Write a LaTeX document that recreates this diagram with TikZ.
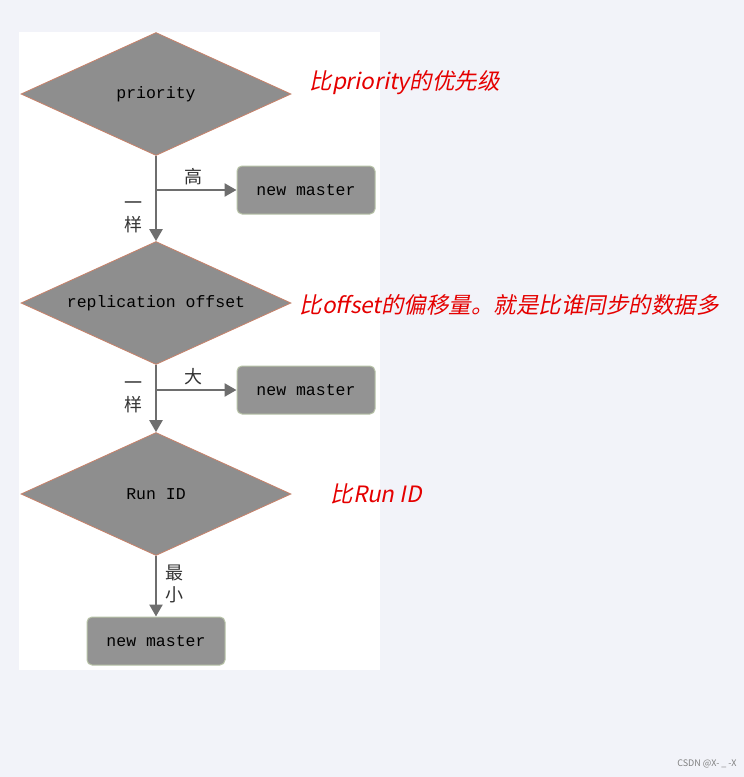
\documentclass[tikz,border=0pt]{standalone}
\usepackage{fontspec}
\usetikzlibrary{shapes.geometric,arrows.meta}
\newfontfamily\cjk{Noto Sans CJK SC}
\newfontfamily\cjkit[FakeSlant=0.2]{Noto Sans CJK SC}
\newfontfamily\monof{Liberation Mono}
\definecolor{bgc}{HTML}{F2F3F9}
\definecolor{dfill}{HTML}{8E8E8E}
\definecolor{dline}{HTML}{C8826A}
\definecolor{bfill}{HTML}{939393}
\definecolor{bline}{HTML}{B8C4A8}
\definecolor{arr}{HTML}{6E6E6E}
\tikzset{
 dia/.style={diamond,fill=dfill,draw=dline,line width=0.8pt,minimum width=270pt,minimum height=123pt,inner sep=0pt,aspect=2.2,font=\monof\fontsize{16.5}{18}\selectfont},
 mbox/.style={rounded corners=5pt,fill=bfill,draw=bline,line width=1pt,minimum width=138pt,minimum height=48pt,font=\monof\fontsize{16.5}{18}\selectfont},
 conn/.style={draw=arr,line width=2.5pt,-{Triangle[length=12pt,width=13pt]}},
 lab/.style={font=\cjk\fontsize{18}{22}\selectfont,text=black!80},
 red/.style={font=\cjkit\fontsize{22.5}{26}\selectfont,text=red!90!black,anchor=west}
}
\begin{document}
\begin{tikzpicture}[x=1pt,y=-1pt]
\fill[bgc] (0,0) rectangle (744,777);
\fill[white] (19,32) rectangle (380,670);
\node[dia] (d1) at (156,94) {priority};
\node[dia] (d2) at (156,303) {replication offset};
\node[dia] (d3) at (156,494) {Run ID};
\node[mbox] (b1) at (306,190) {new master};
\node[mbox] (b2) at (306,390) {new master};
\node[mbox] (b3) at (156,641) {new master};
\coordinate (j1) at (156,190);
\coordinate (j2) at (156,390);
\draw[conn] (d1.south) -- (d2.north);
\draw[conn] (j1) -- (b1.west);
\draw[conn] (d2.south) -- (d3.north);
\draw[conn] (j2) -- (b2.west);
\draw[conn] (d3.south) -- (b3.north);
\node[lab] (t1) at (193,177) {高};
\node[lab,align=center] (t2) at (133,217) {一\\样};
\node[lab] (t3) at (193,377) {大};
\node[lab,align=center] (t4) at (133,397) {一\\样};
\node[lab,align=center] (t5) at (174,584) {最\\小};
\node[red] (r1) at (306,83) {比priority的优先级};
\node[red] (r2) at (296,305) {比offset的偏移量。就是比谁同步的数据多};
\node[red] (r3) at (327,494) {比Run ID};
\node[font=\cjk\fontsize{9}{10}\selectfont,text=gray,anchor=east] (wm) at (740,764) {CSDN @X- \_ -X};
\end{tikzpicture}
\end{document}
